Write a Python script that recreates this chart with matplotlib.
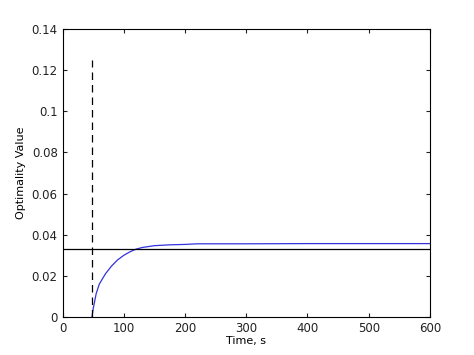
import numpy as np
import matplotlib.pyplot as plt
from matplotlib.ticker import FormatStrFormatter

t_start = 48
t_opt = [48, 50, 55, 60, 70, 80, 90, 100, 110, 120, 130, 150, 175, 200, 220, 300, 400, 500, 600]
optimality = [0, 0.004, 0.0115, 0.016, 0.021, 0.0248, 0.0278, 0.0300, 0.0317, 0.0330, 0.0338, 0.0347, 0.0351, 0.0353, 0.0356, 0.0356, 0.0357, 0.0357, 0.0357]
threshold = 0.033
dash_top = 0.125

fig = plt.figure(figsize=(4.74, 3.55), dpi=100)
ax = fig.add_axes([0.132, 0.107, 0.775, 0.811])

ax.plot(t_opt, optimality, color='#3333dd', lw=0.9)
ax.axhline(threshold, color='black', lw=0.9)
ax.plot([t_start, t_start], [0, dash_top], color='black', lw=0.9, ls=(0, (6, 4)))

ax.set_xlim(0, 600)
ax.set_ylim(0, 0.14)
ax.set_xticks(np.arange(0, 601, 100))
ax.set_yticks(np.arange(0, 0.141, 0.02))
ax.yaxis.set_major_formatter(FormatStrFormatter('%g'))
ax.tick_params(direction='in', top=True, right=True, labelsize=8.5, length=3, colors='#222222')
for s in ax.spines.values():
    s.set_linewidth(0.8)
ax.set_xlabel('Time, s', fontsize=8, labelpad=1)
ax.set_ylabel('Optimality Value', fontsize=8, labelpad=4)

fig.savefig('out.png', dpi=100)
